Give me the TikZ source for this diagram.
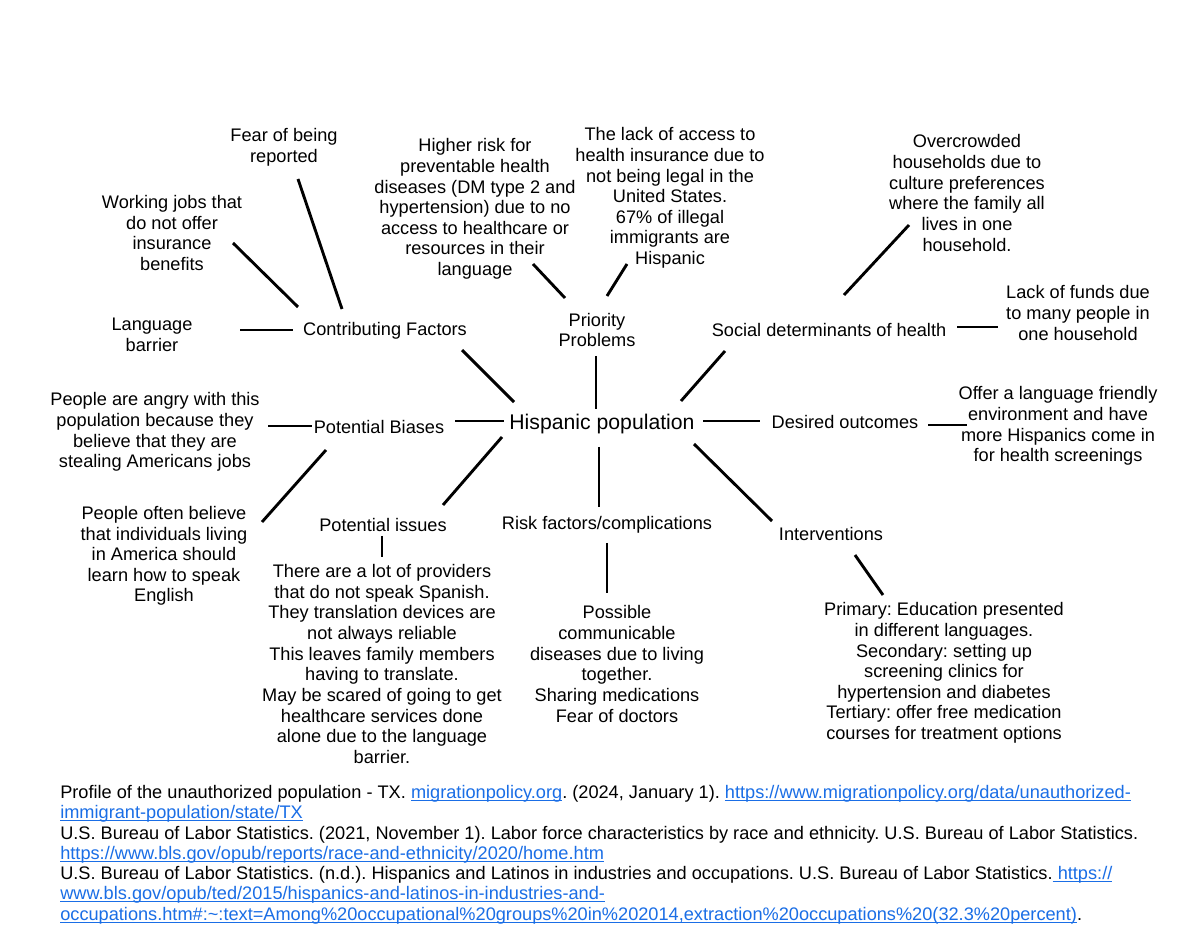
\documentclass[tikz,border=0pt]{standalone}
\usepackage{fontspec}
\setmainfont{Liberation Sans}
\usetikzlibrary{calc}
\definecolor{linkblue}{RGB}{26,110,230}
\newcommand{\weblink}[1]{\textcolor{linkblue}{\setbox0\hbox{#1}\rlap{\rule[-1.4pt]{\wd0}{0.6pt}}\box0}}
\frenchspacing

\begin{document}
\begin{tikzpicture}[x=0.66pt,y=-0.66pt,
    every node/.style={inner sep=0pt, align=center, font=\fontsize{12}{13.6}\selectfont},
    hubnode/.style={font=\fontsize{14}{16.8}\selectfont},
    spoke/.style={line width=1.9pt},
    refs/.style={align=left, anchor=north west, font=\fontsize{12}{13.4}\selectfont}]
    \path[fill=white] (0,0) rectangle (1200,929);

    % Nodes
    \node (hub) [hubnode] at (602,424) {Hispanic population};
    \node (cf) at (385,331) {Contributing Factors};
    \node (pp) at (597,330) {Priority\\Problems};
    \node (sdh) at (829,330) {Social determinants of health};
    \node (pb) at (379,427) {Potential Biases};
    \node (do) at (845,422) {Desired outcomes};
    \node (pi) at (383,525) {Potential issues};
    \node (rf) at (607,525) {Risk factors/complications};
    \node (iv) at (831,534) {Interventions};

    \node (fear) at (284,147) {Fear of being\\reported};
    \node (jobs) at (172,233) {Working jobs that\\do not offer\\insurance\\benefits};
    \node (lang) at (152,335) {Language\\barrier};
    \node (risk) at (475,209) {Higher risk for\\preventable health\\diseases (DM type 2 and\\hypertension) due to no\\access to healthcare or\\resources in their\\language};
    \node (lack) at (670,198) {The lack of access to\\health insurance due to\\not being legal in the\\United States.\\67\% of illegal\\immigrants are\\Hispanic};
    \node (crowd) at (967,193) {Overcrowded\\households due to\\culture preferences\\where the family all\\lives in one\\household.};
    \node (funds) at (1078,313) {Lack of funds due\\to many people in\\one household};
    \node (angry) at (155,432) {People are angry with this\\population because they\\believe that they are\\stealing Americans jobs};
    \node (often) at (164,556) {People often believe\\that individuals living\\in America should\\learn how to speak\\English};
    \node (providers) at (382,664) {There are a lot of providers\\that do not speak Spanish.\\They translation devices are\\not always reliable\\This leaves family members\\having to translate.\\May be scared of going to get\\healthcare services done\\alone due to the language\\barrier.};
    \node (possible) at (617,664) {Possible\\communicable\\diseases due to living\\together.\\Sharing medications\\Fear of doctors};
    \node (offer) at (1058,426) {Offer a language friendly\\environment and have\\more Hispanics come in\\for health screenings};
    \node (primary) at (944,673) {Primary: Education presented\\in different languages.\\Secondary: setting up\\screening clinics for\\hypertension and diabetes\\Tertiary: offer free medication\\courses for treatment options};

    \node (sources) [refs] at (60,785) {Profile of the unauthorized population - TX. \weblink{migrationpolicy.org}. (2024, January 1). \weblink{https://www.migrationpolicy.org/data/unauthorized-}\\
        \weblink{immigrant-population/state/TX}\\
        U.S. Bureau of Labor Statistics. (2021, November 1). Labor force characteristics by race and ethnicity. U.S. Bureau of Labor Statistics.\\
        \weblink{https://www.bls.gov/opub/reports/race-and-ethnicity/2020/home.htm}\\
        U.S. Bureau of Labor Statistics. (n.d.). Hispanics and Latinos in industries and occupations. U.S. Bureau of Labor Statistics.\weblink{ https://}\\
        \weblink{www.bls.gov/opub/ted/2015/hispanics-and-latinos-in-industries-and-}\\
        \weblink{occupations.htm\#:\textasciitilde:text=Among\%20occupational\%20groups\%20in\%202014,extraction\%20occupations\%20(32.3\%20percent)}.};

    % Connections
    \draw[spoke] ($(cf)+(77,19)$) -- ($(hub)+(-88,-22)$);
    \draw[spoke] ($(pp)+(-1,26)$) -- ($(hub)+(-6,-15)$);
    \draw[spoke] ($(sdh)+(-104,21)$) -- ($(hub)+(79,-23)$);
    \draw[spoke] ($(pb)+(76,-6)$) -- ($(hub)+(-98,-3)$);
    \draw[spoke] ($(hub)+(101,-3)$) -- ($(do)+(-85,-1)$);
    \draw[spoke] ($(pi)+(60,-20)$) -- ($(hub)+(-100,13)$);
    \draw[spoke] ($(hub)+(-3,23)$) -- ($(rf)+(-8,-18)$);
    \draw[spoke] ($(hub)+(92,20)$) -- ($(iv)+(-59,-13)$);

    \draw[spoke] ($(fear)+(14,32)$) -- ($(cf)+(-43,-22)$);
    \draw[spoke] ($(jobs)+(61,10)$) -- ($(cf)+(-87,-24)$);
    \draw[spoke] ($(lang)+(88,-5)$) -- ($(cf)+(-92,-1)$);
    \draw[spoke] ($(risk)+(58,55)$) -- ($(pp)+(-32,-32)$);
    \draw[spoke] ($(lack)+(-43,66)$) -- ($(pp)+(10,-34)$);
    \draw[spoke] ($(crowd)+(-58,32)$) -- ($(sdh)+(15,-35)$);
    \draw[spoke] ($(sdh)+(128,-3)$) -- ($(funds)+(-80,14)$);
    \draw[spoke] ($(angry)+(113,-6)$) -- ($(pb)+(-67,-1)$);
    \draw[spoke] ($(often)+(98,-34)$) -- ($(pb)+(-53,23)$);
    \draw[spoke] ($(pi)+(-1,11)$) -- ($(providers)+(0,-107)$);
    \draw[spoke] ($(rf)+(0,18)$) -- ($(possible)+(-10,-71)$);
    \draw[spoke] ($(do)+(83,3)$) -- ($(offer)+(-91,-1)$);
    \draw[spoke] ($(iv)+(24,21)$) -- ($(primary)+(-61,-78)$);
\end{tikzpicture}
\end{document}
